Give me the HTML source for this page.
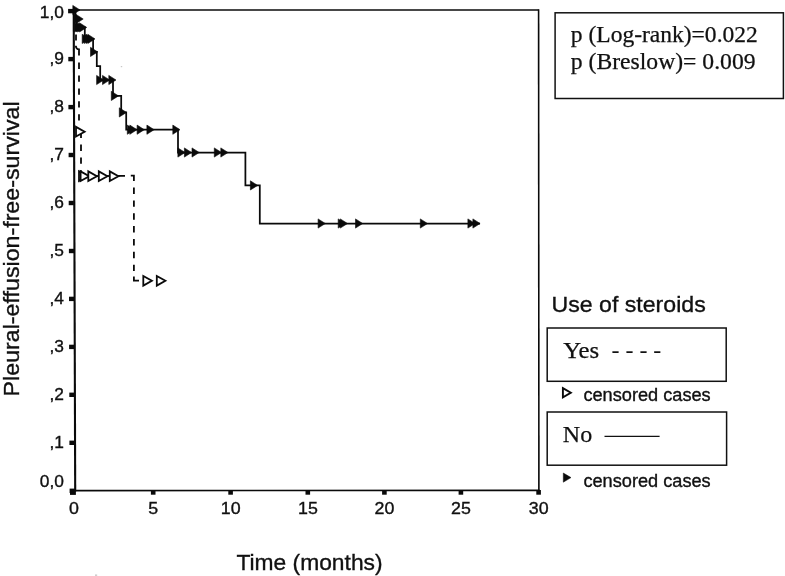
<!DOCTYPE html>
<html><head><meta charset="utf-8"><title>Pleural-effusion-free survival</title>
<style>
html,body{margin:0;padding:0;background:#fff;}
body{width:785px;height:576px;overflow:hidden;}
svg{display:block;}
.sans{font-family:"Liberation Sans",Arial,Helvetica,sans-serif;fill:#111;stroke:#111;stroke-width:0.35px;}
.serif{font-family:"Liberation Serif","Times New Roman",Times,serif;fill:#111;stroke:#111;stroke-width:0.25px;}
</style></head><body>
<svg width="785" height="576" viewBox="0 0 785 576">
<rect x="0" y="0" width="785" height="576" fill="#fff"/>

<g fill="none" stroke="#0a0a0a">
<polyline stroke-width="1.6" points="74,10 538.6,10"/>
<polyline stroke-width="1.6" points="538.6,9.3 538.9,491"/>
<polyline stroke-width="2.1" points="73.7,9 75.2,491.5"/>
<polyline stroke-width="1.7" points="74,490.6 539.6,490.4"/>
</g>
<g fill="#0a0a0a">
<rect x="68.1" y="8.9" width="5.2" height="4.4"/>
<rect x="68.3" y="56.9" width="5.2" height="4.4"/>
<rect x="68.4" y="104.9" width="5.2" height="4.4"/>
<rect x="68.6" y="152.8" width="5.2" height="4.4"/>
<rect x="68.7" y="200.8" width="5.2" height="4.4"/>
<rect x="68.9" y="248.8" width="5.2" height="4.4"/>
<rect x="69.0" y="296.7" width="5.2" height="4.4"/>
<rect x="69.1" y="344.7" width="5.2" height="4.4"/>
<rect x="69.3" y="392.6" width="5.2" height="4.4"/>
<rect x="69.4" y="440.6" width="5.2" height="4.4"/>
<rect x="69.6" y="488.6" width="5.2" height="4.4"/>
<rect x="70" y="489.5" width="5.9" height="5.4"/>
<rect x="150.9" y="490" width="4.6" height="4.7"/>
<rect x="228.3" y="490" width="4.6" height="4.7"/>
<rect x="305.5" y="490" width="4.6" height="4.7"/>
<rect x="382.1" y="490" width="4.6" height="4.7"/>
<rect x="458.6" y="490" width="4.6" height="4.7"/>
<rect x="536.3" y="490" width="4.6" height="4.7"/>
</g>
<g class="sans" font-size="16.4" text-anchor="end">
<text transform="translate(63.9,17.8) scale(1.06,1)">1,0</text>
<text transform="translate(63.9,64.2) scale(1.06,1)">,9</text>
<text transform="translate(63.9,112.2) scale(1.06,1)">,8</text>
<text transform="translate(63.9,160.1) scale(1.06,1)">,7</text>
<text transform="translate(63.9,208.1) scale(1.06,1)">,6</text>
<text transform="translate(63.9,256.1) scale(1.06,1)">,5</text>
<text transform="translate(63.9,304.0) scale(1.06,1)">,4</text>
<text transform="translate(63.9,352.0) scale(1.06,1)">,3</text>
<text transform="translate(63.9,399.9) scale(1.06,1)">,2</text>
<text transform="translate(63.9,447.9) scale(1.06,1)">,1</text>
<text transform="translate(63.9,487.4) scale(1.06,1)">0,0</text>
</g>
<g class="sans" font-size="16.5" text-anchor="middle">
<text transform="translate(73.9,513.7) scale(1.08,1)">0</text>
<text transform="translate(153.3,513.7) scale(1.08,1)">5</text>
<text transform="translate(230.7,513.7) scale(1.08,1)">10</text>
<text transform="translate(307.9,513.7) scale(1.08,1)">15</text>
<text transform="translate(384.5,513.7) scale(1.08,1)">20</text>
<text transform="translate(461.0,513.7) scale(1.08,1)">25</text>
<text transform="translate(538.7,513.7) scale(1.08,1)">30</text>
</g>
<text class="sans" font-size="22.5" x="236.4" y="569.6" textLength="146.2" lengthAdjust="spacingAndGlyphs">Time (months)</text>
<text class="sans" font-size="22.8" transform="translate(18.5,396.4) rotate(-90)" textLength="295" lengthAdjust="spacingAndGlyphs">Pleural-effusion-free-survival</text>
<polyline fill="none" stroke="#0a0a0a" stroke-width="1.75" stroke-linejoin="miter" points="74.0,10.0 75.5,10.0 75.5,19.0 76.5,19.0 76.5,27.4 84.8,27.4 84.8,38.9 93.1,38.9 93.1,51.9 96.8,51.9 96.8,66.0 100.2,66.0 100.2,80.0 113.0,80.0 113.0,95.9 121.2,95.9 121.2,112.4 126.2,112.4 126.2,129.7 178.0,129.7 178.0,152.5 245.4,152.5 245.4,185.4 259.8,185.4 259.8,223.5 480.0,223.5"/>
<g fill="#0a0a0a" stroke="#0a0a0a" stroke-width="0.6" stroke-linejoin="round">
<polygon points="72.8,5.4 80.0,10.0 72.8,14.6"/>
<polygon points="74.2,14.4 81.4,19.0 74.2,23.6"/>
<polygon points="76.0,14.4 83.2,19.0 76.0,23.6"/>
<polygon points="74.2,22.8 81.4,27.4 74.2,32.0"/>
<polygon points="75.8,22.8 83.0,27.4 75.8,32.0"/>
<polygon points="77.6,22.8 84.8,27.4 77.6,32.0"/>
<polygon points="79.5,22.8 86.7,27.4 79.5,32.0"/>
<polygon points="82.2,34.3 89.4,38.9 82.2,43.5"/>
<polygon points="84.2,34.3 91.4,38.9 84.2,43.5"/>
<polygon points="86.0,34.3 93.2,38.9 86.0,43.5"/>
<polygon points="87.8,34.3 95.0,38.9 87.8,43.5"/>
<polygon points="90.5,47.3 97.7,51.9 90.5,56.5"/>
<polygon points="96.6,75.4 103.8,80.0 96.6,84.6"/>
<polygon points="102.5,75.4 109.7,80.0 102.5,84.6"/>
<polygon points="108.8,75.4 116.0,80.0 108.8,84.6"/>
<polygon points="111.3,91.3 118.5,95.9 111.3,100.5"/>
<polygon points="119.3,107.8 126.5,112.4 119.3,117.0"/>
<polygon points="127.3,125.1 134.5,129.7 127.3,134.3"/>
<polygon points="129.8,125.1 137.0,129.7 129.8,134.3"/>
<polygon points="137.1,125.1 144.3,129.7 137.1,134.3"/>
<polygon points="146.9,125.1 154.1,129.7 146.9,134.3"/>
<polygon points="172.8,125.1 180.0,129.7 172.8,134.3"/>
<polygon points="177.9,147.9 185.1,152.5 177.9,157.1"/>
<polygon points="184.4,147.9 191.6,152.5 184.4,157.1"/>
<polygon points="192.0,147.9 199.2,152.5 192.0,157.1"/>
<polygon points="214.3,147.9 221.5,152.5 214.3,157.1"/>
<polygon points="220.8,147.9 228.0,152.5 220.8,157.1"/>
<polygon points="250.4,180.8 257.6,185.4 250.4,190.0"/>
<polygon points="318.1,218.9 325.3,223.5 318.1,228.1"/>
<polygon points="338.2,218.9 345.4,223.5 338.2,228.1"/>
<polygon points="340.3,218.9 347.5,223.5 340.3,228.1"/>
<polygon points="355.5,218.9 362.7,223.5 355.5,228.1"/>
<polygon points="420.3,218.9 427.5,223.5 420.3,228.1"/>
<polygon points="467.9,218.9 475.1,223.5 467.9,228.1"/>
<polygon points="472.9,218.9 480.1,223.5 472.9,228.1"/>
</g>
<g fill="none" stroke="#0a0a0a" stroke-width="1.8">
<path d="M76,34.5 V40.6 M75.8,45.8 C76,48.6 76.8,49.4 79,49.4 V55.6 M79,62.6 V68.9 M79,75.5 V81.8 M79,88.4 V94.7 M79,101.3 V107.6 M79,114.2 V120.5 M81,131.6 V138.0 M81,144.5 V150.9 M81,157.4 V163.8 M81,170.3 V176.2 M80,176.2 L125,175.9 M130.8,175.6 H133.9 V181 M133.9,187.6 V194.0 M133.9,200.4 V206.8 M133.9,213.3 V219.7 M133.9,226.1 V232.5 M133.9,239.0 V245.4 M133.9,251.8 V258.2 M133.9,264.7 V271.1 M133.9,276.6 V280.7 H139"/>
</g>
<g fill="#fff" stroke="#0a0a0a" stroke-width="1.8" stroke-linejoin="miter">
<polygon points="76.0,126.9 84.6,131.7 76.0,136.5"/>
<polygon points="79.0,171.4 87.6,176.2 79.0,181.0"/>
<polygon points="80.6,171.4 89.2,176.2 80.6,181.0"/>
<polygon points="88.3,171.4 96.9,176.2 88.3,181.0"/>
<polygon points="98.8,171.4 107.4,176.2 98.8,181.0"/>
<polygon points="109.8,171.4 118.4,176.2 109.8,181.0"/>
<polygon points="143.3,276.0 151.9,280.8 143.3,285.6"/>
<polygon points="156.8,276.0 165.4,280.8 156.8,285.6"/>
</g>
<rect x="555.1" y="12.8" width="228.3" height="85.7" fill="#fff" stroke="#111" stroke-width="1.5"/>
<text class="serif" font-size="22.3" x="570.8" y="41.5" textLength="187" lengthAdjust="spacingAndGlyphs">p (Log-rank)=0.022</text>
<text class="serif" font-size="22.3" x="570.8" y="69.2" textLength="184.8" lengthAdjust="spacingAndGlyphs">p (Breslow)= 0.009</text>
<text class="sans" font-size="22.6" x="551.5" y="312.4" textLength="154.2" lengthAdjust="spacingAndGlyphs">Use of steroids</text>
<rect x="547.2" y="328" width="179" height="53.3" fill="#fff" stroke="#111" stroke-width="1.5"/>
<text class="serif" font-size="24" x="563.2" y="358.2" textLength="36" lengthAdjust="spacingAndGlyphs">Yes</text>
<text class="serif" font-size="24" x="611.4" y="358.4" style="stroke:none">- - - -</text>
<polygon points="562.9,388.1 570.8,392.7 562.9,397.3" stroke-linejoin="miter" fill="#fff" stroke="#0a0a0a" stroke-width="1.9"/>
<text class="sans" font-size="18.3" x="583.4" y="400.9" textLength="127.3" lengthAdjust="spacingAndGlyphs">censored cases</text>
<rect x="547.2" y="412" width="179.4" height="53.2" fill="#fff" stroke="#111" stroke-width="1.5"/>
<text class="serif" font-size="24" x="562.8" y="442.2">No</text>
<line x1="604.5" y1="436.4" x2="659.6" y2="436.4" stroke="#111" stroke-width="1.4"/>
<polygon points="563.3,473 571,477.6 563.3,482.2" fill="#0a0a0a" stroke="#0a0a0a" stroke-width="0.5"/>
<text class="sans" font-size="18.3" x="583.4" y="486.5" textLength="127.3" lengthAdjust="spacingAndGlyphs">censored cases</text>
<rect x="95" y="574.4" width="2.2" height="1.6" fill="#cfcfcf"/>
<rect x="120.8" y="66" width="1.4" height="1.2" fill="#c8c8c8"/>
</svg></body></html>
